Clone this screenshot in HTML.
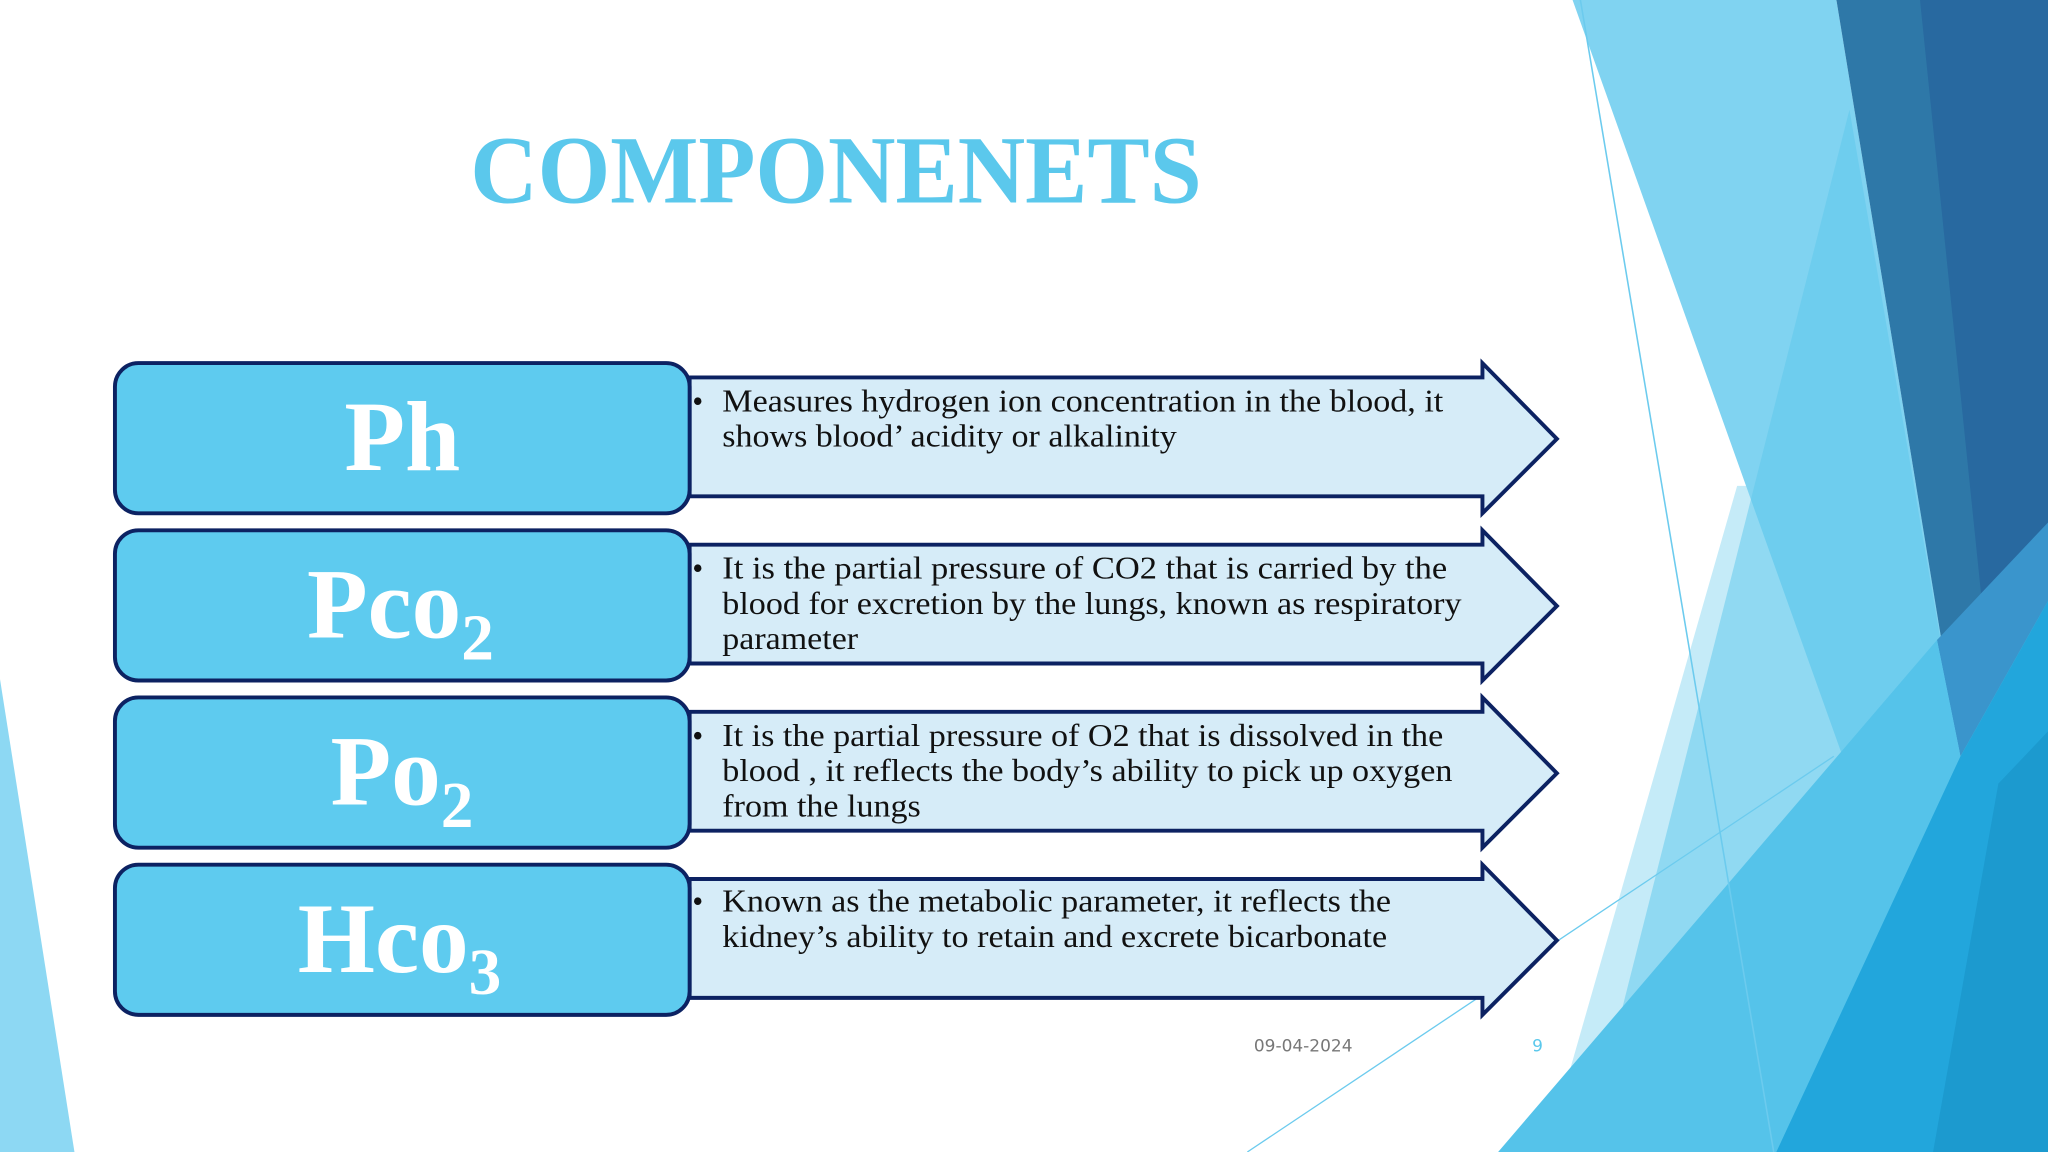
<!DOCTYPE html>
<html><head><meta charset="utf-8"><style>
html,body{margin:0;padding:0;background:#fff;}
svg{display:block;}
</style></head><body>
<svg width="2048" height="1152" viewBox="0 0 1568 882" xmlns="http://www.w3.org/2000/svg">
<rect width="1568" height="882" fill="#fff"/>
<polygon points="0,520 57,882 0,882" fill="#8dd8f3"/>
<!-- right decorations -->
<polygon points="1330,372 1184,882 1568,882 1568,372" fill="#c5ebf8"/>
<polygon points="1204,0 1406,0 1501,579 1435,647" fill="#80d3f1"/>
<polygon points="1416,84 1501,579 1420,680 1240,780" fill="#5bc8ec" opacity="0.5"/>
<polygon points="1406,0 1568,0 1568,460 1501,579" fill="#2e78a8"/>
<polygon points="1470,0 1568,0 1568,460 1525,535" fill="#2869a0"/>
<polygon points="1483,490 1568,400 1568,460 1501,579" fill="#3a95cc"/>
<polygon points="1147,882 1483,490 1501,579 1568,460 1568,882" fill="#55c3ea"/>
<polygon points="1360,882 1501,579 1568,460 1568,882" fill="#22a6dc"/>
<polygon points="1480,882 1530,600 1568,560 1568,882" fill="#1c9acf"/>
<line x1="1210" y1="0" x2="1358" y2="882" stroke="#6ccbee" stroke-width="1.2"/>
<line x1="955" y1="882" x2="1130" y2="765" stroke="#6ccbee" stroke-width="1"/>
<line x1="1190" y1="722" x2="1404" y2="579" stroke="#6ccbee" stroke-width="1"/>
<!-- title -->
<text x="640" y="155" text-anchor="middle" font-family="Liberation Serif, serif" font-weight="bold" font-size="74" fill="#5bc8ec" textLength="560" lengthAdjust="spacingAndGlyphs">COMPONENETS</text>
<g font-family="Liberation Serif, serif">
<g>
<polygon points="528,289 1135,289 1135,278 1192,336 1135,393 1135,380 528,380" fill="#d6ecf8" stroke="#0c2262" stroke-width="3"/>
<rect x="88" y="278" width="440" height="115" rx="18" fill="#5ecbef" stroke="#0c2262" stroke-width="3"/>
<text x="308" y="360" text-anchor="middle" font-weight="bold" font-size="76" fill="#fff">Ph</text>
<text font-size="24" fill="#111"><tspan x="530" y="315">•</tspan></text>
<text font-size="24" fill="#111" x="553" y="315" textLength="552" lengthAdjust="spacingAndGlyphs">Measures hydrogen ion concentration in the blood, it</text>
<text font-size="24" fill="#111" x="553" y="342" textLength="348" lengthAdjust="spacingAndGlyphs">shows blood’ acidity or alkalinity</text>
</g>
<g>
<polygon points="528,417 1135,417 1135,406 1192,464 1135,521 1135,508 528,508" fill="#d6ecf8" stroke="#0c2262" stroke-width="3"/>
<rect x="88" y="406" width="440" height="115" rx="18" fill="#5ecbef" stroke="#0c2262" stroke-width="3"/>
<text x="235" y="488" font-weight="bold" font-size="76" fill="#fff">Pco<tspan font-size="50" dy="17">2</tspan></text>
<text font-size="24" fill="#111"><tspan x="530" y="443">•</tspan></text>
<text font-size="24" fill="#111" x="553" y="443" textLength="555" lengthAdjust="spacingAndGlyphs">It is the partial pressure of CO2  that is carried by the</text>
<text font-size="24" fill="#111" x="553" y="470" textLength="566" lengthAdjust="spacingAndGlyphs">blood for excretion by the lungs, known as respiratory</text>
<text font-size="24" fill="#111" x="553" y="497" textLength="104" lengthAdjust="spacingAndGlyphs">parameter</text>
</g>
<g>
<polygon points="528,545 1135,545 1135,534 1192,592 1135,649 1135,636 528,636" fill="#d6ecf8" stroke="#0c2262" stroke-width="3"/>
<rect x="88" y="534" width="440" height="115" rx="18" fill="#5ecbef" stroke="#0c2262" stroke-width="3"/>
<text x="253" y="616" font-weight="bold" font-size="76" fill="#fff">Po<tspan font-size="50" dy="17">2</tspan></text>
<text font-size="24" fill="#111"><tspan x="530" y="571">•</tspan></text>
<text font-size="24" fill="#111" x="553" y="571" textLength="552" lengthAdjust="spacingAndGlyphs">It is the partial pressure of O2 that is dissolved in the</text>
<text font-size="24" fill="#111" x="553" y="598" textLength="559" lengthAdjust="spacingAndGlyphs">blood , it reflects the body’s ability to pick up oxygen</text>
<text font-size="24" fill="#111" x="553" y="625" textLength="152" lengthAdjust="spacingAndGlyphs">from the lungs</text>
</g>
<g>
<polygon points="528,673 1135,673 1135,662 1192,720 1135,777 1135,764 528,764" fill="#d6ecf8" stroke="#0c2262" stroke-width="3"/>
<rect x="88" y="662" width="440" height="115" rx="18" fill="#5ecbef" stroke="#0c2262" stroke-width="3"/>
<text x="228" y="744" font-weight="bold" font-size="76" fill="#fff">Hco<tspan font-size="50" dy="17">3</tspan></text>
<text font-size="24" fill="#111"><tspan x="530" y="698">•</tspan></text>
<text font-size="24" fill="#111" x="553" y="698" textLength="512" lengthAdjust="spacingAndGlyphs">Known as the metabolic parameter, it reflects the</text>
<text font-size="24" fill="#111" x="553" y="725" textLength="509" lengthAdjust="spacingAndGlyphs">kidney’s ability to retain and excrete bicarbonate</text>
</g>
</g>
<text x="960" y="805" font-family="DejaVu Sans, sans-serif" font-size="13" fill="#777">09-04-2024</text>
<text x="1173" y="805" font-family="DejaVu Sans, sans-serif" font-size="13" fill="#5bc8ec">9</text>
</svg>
</body></html>
